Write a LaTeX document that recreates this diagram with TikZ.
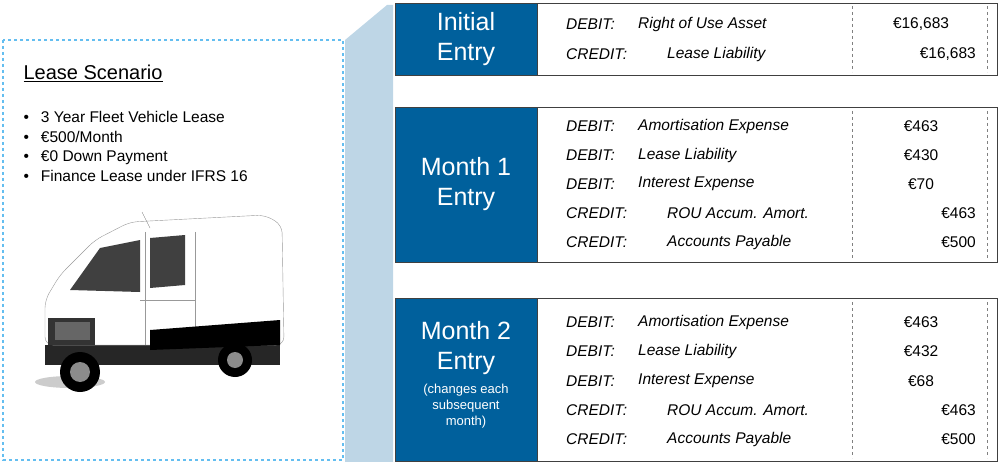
\documentclass[tikz,border=0pt]{standalone}
\usepackage{fontspec}
\setmainfont{Liberation Sans}
\definecolor{leaseblue}{RGB}{0,96,156}
\definecolor{bandblue}{RGB}{190,214,230}
\definecolor{dashblue}{RGB}{100,190,240}
\tikzset{
  entrybox/.style={draw=black!75, line width=0.8pt},
  entrylabel/.style={fill=leaseblue, draw=black!75, line width=0.8pt},
  rowtext/.style={anchor=west, inner sep=0pt, font=\fontsize{15.5}{18}\selectfont\itshape},
  amount/.style={inner sep=0pt, font=\fontsize{15.5}{18}\selectfont},
  heading/.style={text=white, align=center, font=\fontsize{25}{30}\selectfont}
}
\begin{document}
\begin{tikzpicture}[x=1pt,y=-1pt]
\useasboundingbox (0,0) rectangle (1000,462);

% Band and scenario box
\fill[bandblue] (345,40) -- (387,5) -- (393,5) -- (393,462) -- (345,462) -- cycle;
\draw[dashblue, dashed, line width=1.2pt] (3,40) rectangle (343,460);
\node[anchor=west, font=\fontsize{20}{24}\selectfont] (title) at (20,73) {\underline{Lease Scenario}};
\node[anchor=north west, align=left, font=\fontsize{15.5}{19.5}\selectfont] (bullets) at (20,108)
  {\textbullet\hspace{12pt}3 Year Fleet Vehicle Lease\\
   \textbullet\hspace{12pt}€500/Month\\
   \textbullet\hspace{12pt}€0 Down Payment\\
   \textbullet\hspace{12pt}Finance Lease under IFRS 16};

% Van
\fill[black!20] (70,382) ellipse (35 and 6);
\fill[black!85] (45,345) -- (280,345) -- (280,365) -- (45,365) -- cycle;
\fill[white, draw=black!40, rounded corners=8pt] (45,345) -- (45,300) -- (60,275) -- (95,240) -- (130,222) -- (265,215) -- (282,225) -- (284,345) -- cycle;
\fill[black!75] (70,290) -- (100,248) -- (140,240) -- (140,292) -- cycle;
\fill[black!75] (150,238) -- (185,235) -- (185,285) -- (150,288) -- cycle;
\draw[black!40] (140,300) -- (195,300) (195,232) -- (195,345) (145,232) -- (145,345);
\fill[black!80] (48,318) rectangle (95,345);
\fill[black!60] (55,322) rectangle (90,340);
\fill[black] (150,330) -- (280,320) -- (280,345) -- (150,350) -- cycle;
\fill[black] (80,372) circle (20) (235,360) circle (17);
\fill[black!45] (80,372) circle (10) (235,360) circle (8);
\draw[black!50] (142,212) -- (150,228);

% Entries
\draw[entrybox] (395,3) rectangle (997,75);
\draw[entrylabel] (395,3) rectangle (537,75);
\node[heading] (initial) at (466,39) {Initial\\Entry};
\draw[entrybox] (395,107) rectangle (997,262);
\draw[entrylabel] (395,107) rectangle (537,262);
\node[heading] (month1) at (466,184) {Month 1\\Entry};
\draw[entrybox] (395,298) rectangle (997,461);
\draw[entrylabel] (395,298) rectangle (537,461);
\node[heading, anchor=north] (month2) at (466,318) {Month 2\\Entry};
\node[text=white, align=center, font=\fontsize{13}{16}\selectfont, anchor=north] (changes) at (466,381)
  {(changes each\\subsequent\\month)};

\foreach \ya/\yb in {6/72,111/259,302/458}
  \draw[black!50, dashed] (852,\ya) -- (852,\yb) (987,\ya) -- (987,\yb);

% Rows: y / type / account / amount
\foreach \y/\t/\acc/\amt in {24/D/Right of Use Asset/{€16,683}, 54/C/Lease Liability/{€16,683},
  126/D/Amortisation Expense/€463, 155/D/Lease Liability/€430, 184/D/Interest Expense/€70,
  213/C/ROU Accum. Amort./€463, 242/C/Accounts Payable/€500,
  322/D/Amortisation Expense/€463, 351/D/Lease Liability/€432, 381/D/Interest Expense/€68,
  410/C/ROU Accum. Amort./€463, 439/C/Accounts Payable/€500}{
  \if\t D
    \node[rowtext] at (566,\y) {DEBIT:};
    \node[rowtext] at (638,\y) {\acc};
    \node[amount] at (921,\y) {\amt};
  \else
    \node[rowtext] at (566,\y) {CREDIT:};
    \node[rowtext] at (667,\y) {\acc};
    \node[amount, anchor=east] at (976,\y) {\amt};
  \fi
}
\end{tikzpicture}
\end{document}
